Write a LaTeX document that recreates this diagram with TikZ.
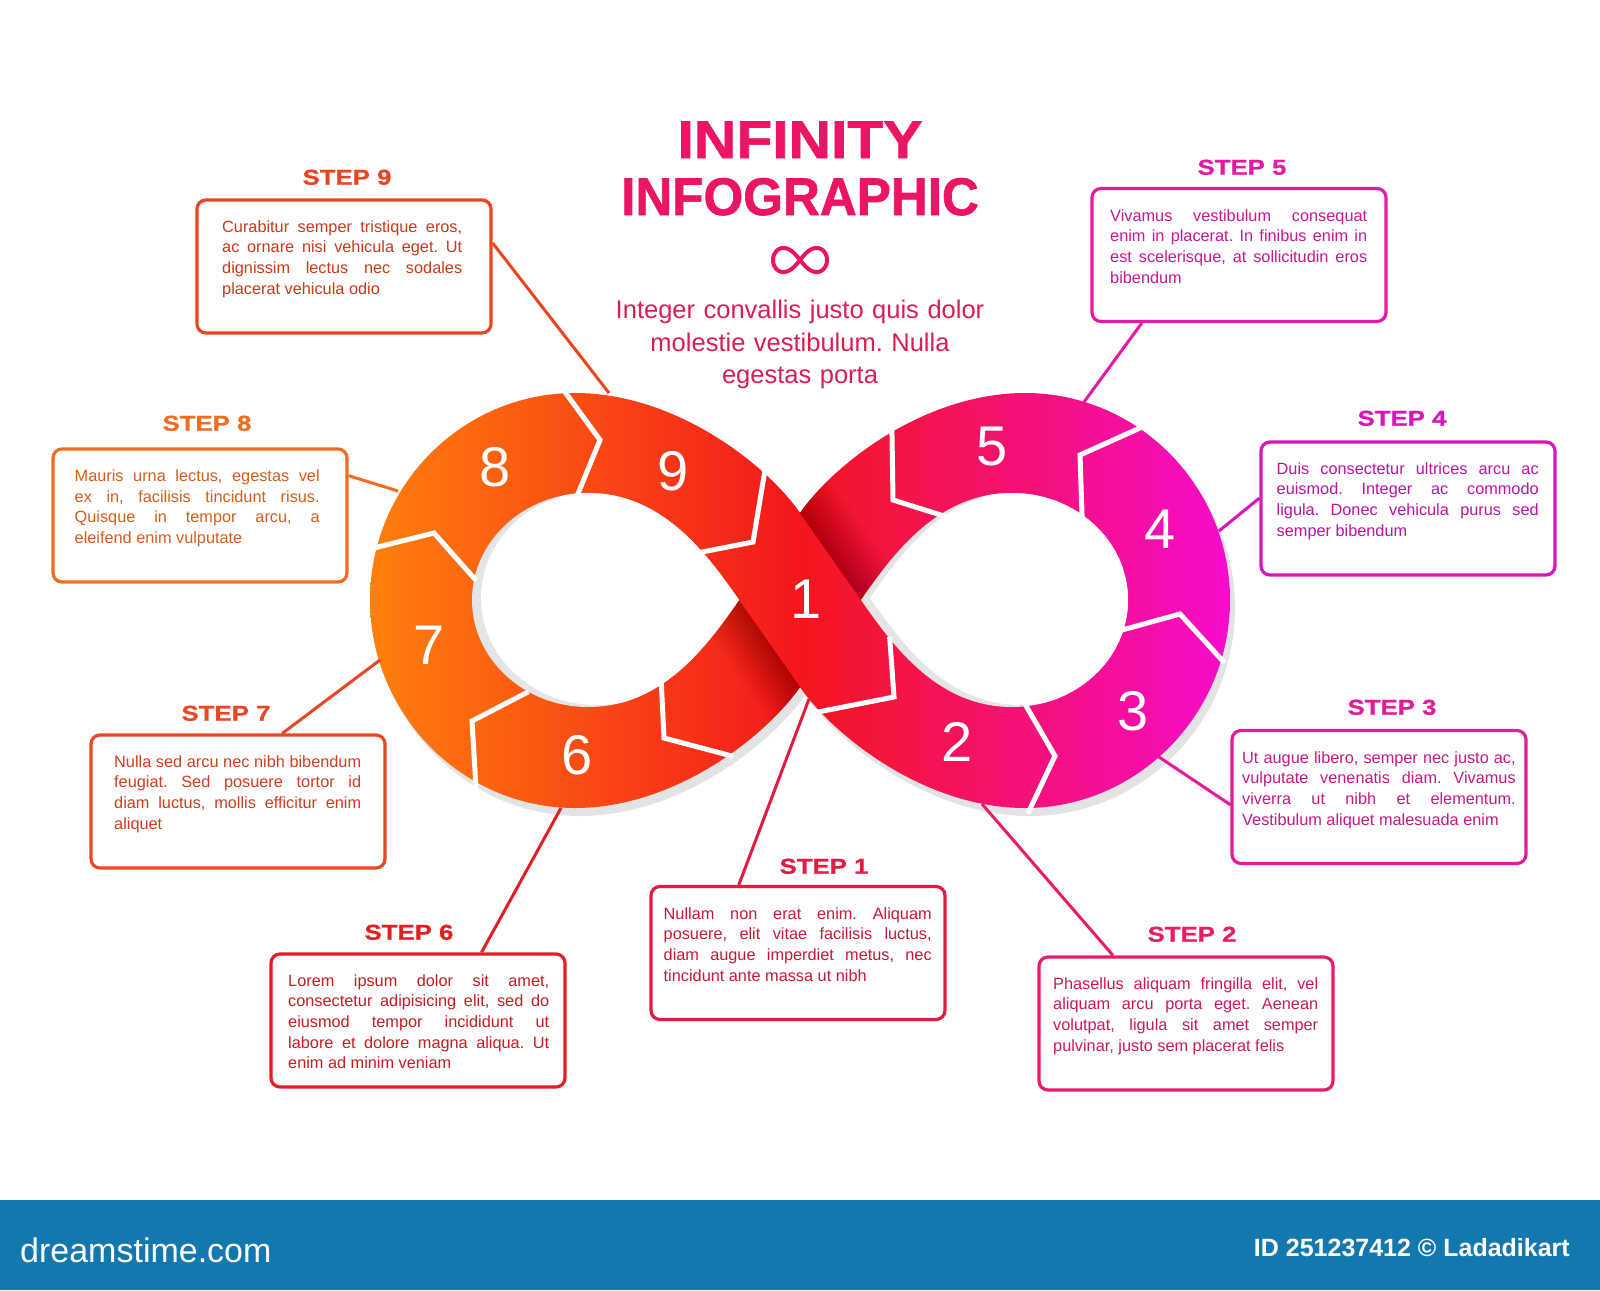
\documentclass[tikz,border=0pt]{standalone}
\usepackage{fontspec}
\setmainfont{Liberation Sans}
\newfontfamily\heavyfont{Liberation Sans}[FakeStretch=1.2, FakeBold=0.8]
\newfontfamily\titlefont{Liberation Sans}[FakeBold=1.2]
\usetikzlibrary{calc}
\frenchspacing

\definecolor{gOr}{RGB}{255,128,12}
\definecolor{gRd}{RGB}{244,22,28}
\definecolor{gMg}{RGB}{246,12,204}
\definecolor{cNine}{RGB}{236,68,30}
\definecolor{cEight}{RGB}{240,108,32}
\definecolor{cSeven}{RGB}{234,72,36}
\definecolor{cSix}{RGB}{226,32,36}
\definecolor{cOne}{RGB}{226,28,64}
\definecolor{cTwo}{RGB}{232,28,104}
\definecolor{cThree}{RGB}{226,28,152}
\definecolor{cFour}{RGB}{214,22,186}
\definecolor{cFive}{RGB}{228,26,166}
\definecolor{titlecol}{RGB}{236,20,100}
\definecolor{subcol}{RGB}{218,30,82}
\definecolor{bannercol}{RGB}{18,120,174}

\def\silhouette{(800,512.8) .. controls (765.6,463.6) and (675,393) .. (575,393) .. controls (462,393) and (370,486) .. (370,600) .. controls (370,714) and (462,808) .. (575,808) .. controls (675,808) and (765.6,736.4) .. (800,687.2) -- (861,600) -- cycle (800,512.8) -- (739,600) -- (800,687.2) .. controls (834.4,736.4) and (925,808) .. (1025,808) .. controls (1138,808) and (1230,714) .. (1230,600) .. controls (1230,486) and (1138,393) .. (1025,393) .. controls (925,393) and (834.4,463.6) .. (800,512.8) -- cycle}
\def\holeL{(739,600) .. controls (707.5,554.9) and (663,493) .. (588,493) .. controls (524,493) and (472,541) .. (472,600) .. controls (472,659) and (524,707) .. (588,707) .. controls (663,707) and (707.5,645.1) .. (739,600) -- cycle}
\def\holeR{(861,600) .. controls (892.5,554.9) and (937,493) .. (1012,493) .. controls (1076,493) and (1128,541) .. (1128,600) .. controls (1128,659) and (1076,707) .. (1012,707) .. controls (937,707) and (892.5,645.1) .. (861,600) -- cycle}
\def\underpass{(678.7,686.0) -- (839.3,456.6) -- (921.3,514.0) -- (760.7,743.4) -- cycle}

\tikzset{
 box/.style={draw, rounded corners=9pt, line width=3.2pt, minimum width=294pt, minimum height=133pt, inner sep=0pt},
 btext/.style={anchor=base west, align=justify, inner sep=0pt, font=\fontsize{16.3}{20.7}\selectfont},
 steptitle/.style={anchor=base, inner sep=0pt, font=\heavyfont\bfseries\fontsize{21.5}{21.5}\selectfont},
 conn/.style={line width=3pt},
 chev/.style={draw=white, line width=5pt, line join=miter, shorten <=-5pt, shorten >=-5pt},
 digit/.style={text=white, inner sep=0pt, font=\fontsize{56}{56}\selectfont},
}

\begin{document}
\begin{tikzpicture}[x=1pt,y=-1pt]
\useasboundingbox (0,0) rectangle (1600,1290);
\fill[white] (0,0) rectangle (1600,1290);

% infinity band
\fill[black!11, shift={(5,8)}] \silhouette;
\shade[left color=gOr, right color=gMg, middle color=gRd] \silhouette;
\begin{scope}
 \clip \silhouette;
 \clip \underpass;
 \foreach \s in {2,4,...,44} {
  \fill[black, opacity=0.013] (673.0,505.8) -- (845.1,751.6) -- ({845.1-\s*0.8192},{751.6+\s*0.5736}) -- ({673.0-\s*0.8192},{505.8+\s*0.5736}) -- cycle;
  \fill[black, opacity=0.013] (754.9,448.4) -- (927.0,694.2) -- ({927.0+\s*0.8192},{694.2-\s*0.5736}) -- ({754.9+\s*0.8192},{448.4-\s*0.5736}) -- cycle;
 }
\end{scope}
\fill[black!10] \holeL;
\begin{scope}\clip \holeL; \fill[white, shift={(9,-2)}] \holeL;\end{scope}
\fill[black!10] \holeR;
\begin{scope}\clip \holeR; \fill[white, shift={(9,-2)}] \holeR;\end{scope}

% chevrons
\draw[chev] (565,392) -- (600,440) -- (577,496);
\draw[chev] (764,476) -- (753,542) -- (697,553);
\draw[chev] (890,642) -- (894,697) -- (818,712);
\draw[chev] (1025,704) -- (1055,756) -- (1030,809);
\draw[chev] (1122,630) -- (1180,614) -- (1221,659);
\draw[chev] (1140,428) -- (1080,455) -- (1082,515);
\draw[chev] (892,436) -- (893,500) -- (944,516);
\draw[chev] (661,677) -- (664,738) -- (728,755);
\draw[chev] (524,694) -- (472,721) -- (476,788);
\draw[chev] (370,549) -- (434,533) -- (473,577);

% digits
\node[digit] (d1) at (806,599) {1};
\node[digit] (d2) at (957,742) {2};
\node[digit] (d3) at (1133,711) {3};
\node[digit] (d4) at (1160,529) {4};
\node[digit] (d5) at (992,447) {5};
\node[digit] (d6) at (577,755) {6};
\node[digit] (d7) at (429,645) {7};
\node[digit] (d8) at (495,467) {8};
\node[digit] (d9) at (673,471) {9};

% anchor points on the band
\coordinate (a9) at (609,393);
\coordinate (a8) at (398,491);
\coordinate (a7) at (380,660);
\coordinate (a6) at (561,808);
\coordinate (a1) at (809,699);
\coordinate (a2) at (982,804);
\coordinate (a3) at (1156,755);
\coordinate (a4) at (1219,531);
\coordinate (a5) at (1084,402);

% boxes
\node[box, draw=cNine]  (b9) at (344,266.5) {};
\node[box, draw=cEight] (b8) at (200,515.5) {};
\node[box, draw=cSeven] (b7) at (238,801.5) {};
\node[box, draw=cSix]   (b6) at (418,1020.5) {};
\node[box, draw=cOne]   (b1) at (798,953) {};
\node[box, draw=cTwo]   (b2) at (1186,1023.5) {};
\node[box, draw=cThree] (b3) at (1379,797) {};
\node[box, draw=cFour]  (b4) at (1408,508.5) {};
\node[box, draw=cFive]  (b5) at (1239,255) {};

% connectors
\draw[conn, cNine]  (b9.9) -- (a9);
\draw[conn, cEight] (b8.15) -- (a8);
\draw[conn, cSeven] (b7.57.7) -- (a7);
\draw[conn, cSix]   (b6.47.5) -- (a6);
\draw[conn, cOne]   (b1.131.3) -- (a1);
\draw[conn, cTwo]   (b2.137.3) -- (a2);
\draw[conn, cThree] (b3.183.5) -- (a3);
\draw[conn, cFour]  (b4.176.7) -- (a4);
\draw[conn, cFive]  (b5.215.1) -- (a5);

% step titles
\node[steptitle, text=cNine]  (s9) at (347,184.7) {STEP 9};
\node[steptitle, text=cEight] (s8) at (207,430.7) {STEP 8};
\node[steptitle, text=cSeven] (s7) at (226,720.7) {STEP 7};
\node[steptitle, text=cSix]   (s6) at (409,939.7) {STEP 6};
\node[steptitle, text=cOne]   (s1) at (824,873.7) {STEP 1};
\node[steptitle, text=cTwo]   (s2) at (1192,941.7) {STEP 2};
\node[steptitle, text=cThree] (s3) at (1392,714.7) {STEP 3};
\node[steptitle, text=cFour]  (s4) at (1402,425.7) {STEP 4};
\node[steptitle, text=cFive]  (s5) at (1242,174.7) {STEP 5};

% box texts
\node[btext, text=cNine!85!black, text width=240pt] (t9) at (222,232) {Curabitur semper tristique eros,\linebreak ac ornare nisi vehicula eget. Ut\linebreak dignissim lectus nec sodales\linebreak placerat vehicula odio};
\node[btext, text=cEight!88!black, text width=245pt] (t8) at (74.5,481.5) {Mauris urna lectus, egestas vel\linebreak ex in, facilisis tincidunt risus.\linebreak Quisque in tempor arcu, a\linebreak eleifend enim vulputate};
\node[btext, text=cSeven!88!black, text width=247pt] (t7) at (114,767) {Nulla sed arcu nec nibh bibendum\linebreak feugiat. Sed posuere tortor id\linebreak diam luctus, mollis efficitur enim\linebreak aliquet};
\node[btext, text=cSix!88!black, text width=261pt] (t6) at (288,986) {Lorem ipsum dolor sit amet,\linebreak consectetur adipisicing elit, sed do\linebreak eiusmod tempor incididunt ut\linebreak labore et dolore magna aliqua. Ut\linebreak enim ad minim veniam};
\node[btext, text=cOne!88!black, text width=268pt] (t1) at (663.5,919) {Nullam non erat enim. Aliquam\linebreak posuere, elit vitae facilisis luctus,\linebreak diam augue imperdiet metus, nec\linebreak tincidunt ante massa ut nibh};
\node[btext, text=cTwo!88!black, text width=265pt] (t2) at (1053,989) {Phasellus aliquam fringilla elit, vel\linebreak aliquam arcu porta eget. Aenean\linebreak volutpat, ligula sit amet semper\linebreak pulvinar, justo sem placerat felis};
\node[btext, text=cThree!88!black, text width=273.5pt] (t3) at (1242,763) {Ut augue libero, semper nec justo ac,\linebreak vulputate venenatis diam. Vivamus\linebreak viverra ut nibh et elementum.\linebreak Vestibulum aliquet malesuada enim};
\node[btext, text=cFour!88!black, text width=262pt] (t4) at (1276.5,474) {Duis consectetur ultrices arcu ac\linebreak euismod. Integer ac commodo\linebreak ligula. Donec vehicula purus sed\linebreak semper bibendum};
\node[btext, text=cFive!88!black, text width=257pt] (t5) at (1110,221) {Vivamus vestibulum consequat\linebreak enim in placerat. In finibus enim in\linebreak est scelerisque, at sollicitudin eros\linebreak bibendum};

% title
\node[anchor=base, inner sep=0pt, text=titlecol, font=\titlefont\bfseries\fontsize{53}{53}\selectfont] (title1) at (800,158) {\scalebox{1.109}[1]{INFINITY}};
\node[anchor=base, inner sep=0pt, text=titlecol, font=\titlefont\bfseries\fontsize{53}{53}\selectfont] (title2) at (800,215) {\scalebox{0.964}[1]{INFOGRAPHIC}};
\draw[titlecol, line width=4pt] plot[domain=0:360, samples=121] ({800+27*cos(\x)/(1+(sin(\x))^2)}, {260+34*sin(\x)*cos(\x)/(1+(sin(\x))^2)});
\node[anchor=base, inner sep=0pt, text width=440pt, align=center, text=subcol, font=\fontsize{25.5}{32.5}\selectfont] (sub) at (800,318.5) {Integer convallis justo quis dolor\\ molestie vestibulum. Nulla\\ egestas porta};

% footer banner
\fill[bannercol] (0,1200) rectangle (1600,1290);
\node[anchor=base west, inner sep=0pt, text=white, font=\fontsize{34}{34}\selectfont] (brand) at (20,1262) {dreamstime.com};
\node[anchor=base east, inner sep=0pt, text=white, font=\bfseries\fontsize{25}{25}\selectfont] (credit) at (1570,1256) {ID 251237412 © Ladadikart};
\end{tikzpicture}
\end{document}
